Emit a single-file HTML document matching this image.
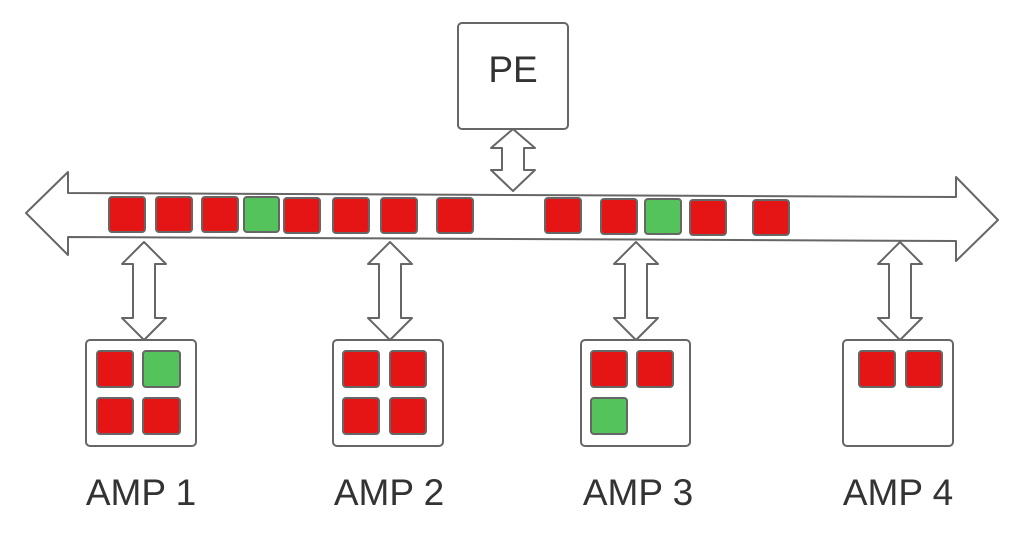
<!DOCTYPE html>
<html><head><meta charset="utf-8"><style>
html,body{margin:0;padding:0;background:#fff;}
svg{display:block;}
text{font-family:"Liberation Sans",sans-serif;fill:#333;}
</style></head><body>
<svg width="1024" height="545" viewBox="0 0 1024 545" xmlns="http://www.w3.org/2000/svg">
<defs>
<g id="va">
<path d="M0,0 L22,22 L11,22 L11,76 L22,76 L0,98 L-22,76 L-11,76 L-11,22 L-22,22 Z" fill="#fff" stroke="#666" stroke-width="2" stroke-linejoin="round"/>
</g>
</defs>
<!-- bus -->
<path d="M26,213 L68,172 L68,193 L956,197 L956,177 L998,220 L956,261 L956,241 L68,237 L68,255 Z" fill="#fff" stroke="#666" stroke-width="2" stroke-linejoin="round"/>
<g stroke="#666" stroke-width="2">
<rect x="109" y="197" width="36" height="35" rx="3" fill="#e51515"/>
<rect x="156" y="197" width="36" height="35" rx="3" fill="#e51515"/>
<rect x="202" y="197" width="36" height="35" rx="3" fill="#e51515"/>
<rect x="244" y="197" width="35" height="35" rx="3" fill="#54c35c"/>
<rect x="284" y="198" width="36" height="35" rx="3" fill="#e51515"/>
<rect x="333" y="198" width="36" height="35" rx="3" fill="#e51515"/>
<rect x="381" y="198" width="36" height="35" rx="3" fill="#e51515"/>
<rect x="437" y="198" width="36" height="35" rx="3" fill="#e51515"/>
<rect x="545" y="198" width="36" height="35" rx="3" fill="#e51515"/>
<rect x="601" y="199" width="36" height="35" rx="3" fill="#e51515"/>
<rect x="645" y="199" width="36" height="35" rx="3" fill="#54c35c"/>
<rect x="690" y="200" width="36" height="35" rx="3" fill="#e51515"/>
<rect x="753" y="200" width="36" height="35" rx="3" fill="#e51515"/>
</g>
<!-- PE -->
<rect x="458" y="23" width="110" height="106" rx="4" fill="#fff" stroke="#666" stroke-width="2"/>
<text x="513" y="82" font-size="37" text-anchor="middle">PE</text>
<path d="M513,129 L535,148 L524,148 L524,170 L535,170 L513,191 L491,170 L502,170 L502,148 L491,148 Z" fill="#fff" stroke="#666" stroke-width="2" stroke-linejoin="round"/>
<!-- vertical arrows -->
<use href="#va" x="144" y="242"/>
<use href="#va" x="390" y="242"/>
<use href="#va" x="636" y="242"/>
<use href="#va" x="900" y="242"/>
<!-- AMP boxes -->
<g stroke="#666" stroke-width="2">
<rect x="86" y="340" width="110" height="106" rx="4" fill="#fff"/>
<rect x="333" y="340" width="110" height="106" rx="4" fill="#fff"/>
<rect x="581" y="340" width="109" height="106" rx="4" fill="#fff"/>
<rect x="843" y="340" width="110" height="106" rx="4" fill="#fff"/>
<rect x="97" y="351" width="36" height="36" rx="3" fill="#e51515"/>
<rect x="143" y="351" width="37" height="36" rx="3" fill="#54c35c"/>
<rect x="97" y="398" width="36" height="36" rx="3" fill="#e51515"/>
<rect x="143" y="398" width="37" height="36" rx="3" fill="#e51515"/>
<rect x="343" y="351" width="36" height="36" rx="3" fill="#e51515"/>
<rect x="390" y="351" width="36" height="36" rx="3" fill="#e51515"/>
<rect x="343" y="398" width="36" height="36" rx="3" fill="#e51515"/>
<rect x="390" y="398" width="36" height="36" rx="3" fill="#e51515"/>
<rect x="591" y="351" width="36" height="36" rx="3" fill="#e51515"/>
<rect x="637" y="351" width="36" height="36" rx="3" fill="#e51515"/>
<rect x="591" y="398" width="36" height="36" rx="3" fill="#54c35c"/>
<rect x="859" y="351" width="36" height="36" rx="3" fill="#e51515"/>
<rect x="906" y="351" width="36" height="36" rx="3" fill="#e51515"/>
</g>
<g font-size="37" text-anchor="middle">
<text x="141" y="505">AMP 1</text>
<text x="389" y="505">AMP 2</text>
<text x="638" y="505">AMP 3</text>
<text x="898" y="505">AMP 4</text>
</g>
</svg>
</body></html>
